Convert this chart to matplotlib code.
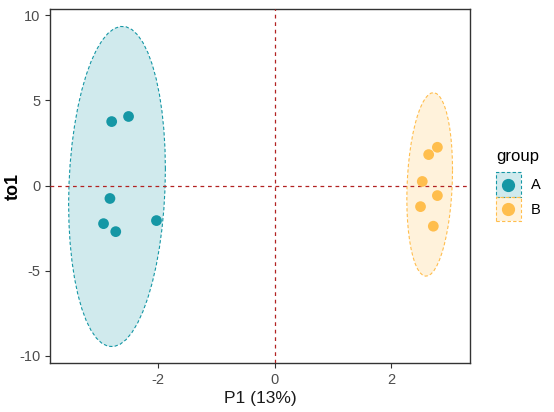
import numpy as np
import matplotlib
matplotlib.use("Agg")
import matplotlib.pyplot as plt
from matplotlib.lines import Line2D
from matplotlib.patches import Rectangle
from matplotlib.legend_handler import HandlerBase

plt.rcParams["font.family"] = ["Liberation Sans", "DejaVu Sans"]

groups = ["A", "B"]
a_x = [-2.80, -2.51, -2.83, -2.94, -2.73, -2.03]
a_y = [3.76, 4.06, -0.76, -2.24, -2.71, -2.06]
b_x = [2.80, 2.65, 2.54, 2.80, 2.51, 2.73]
b_y = [2.25, 1.82, 0.24, -0.59, -1.24, -2.39]
point_colors = ["#1597A5", "#FFBE4D"]
x_ticks = [-2, 0, 2]
y_ticks = [-10, -5, 0, 5, 10]


def cov_trob(x, nu=5, maxit=25, tol=0.01):
    n, p = x.shape
    wt = np.ones(n)
    loc = (wt[:, None] * x).sum(0) / wt.sum()
    w = np.sqrt(wt)
    for _ in range(maxit):
        w0 = w
        X = x - loc
        _, d, vt = np.linalg.svd(np.sqrt(w / w.sum())[:, None] * X, full_matrices=False)
        wX = X @ vt.T @ np.diag(1 / d)
        Q = (wX ** 2).sum(1)
        w = wt * (nu + p) / (nu + Q)
        loc = (w[:, None] * x).sum(0) / w.sum()
        if np.all(np.abs(w - w0) < tol):
            break
    X = x - loc
    cov = (np.sqrt(w)[:, None] * X).T @ (np.sqrt(w)[:, None] * X) / wt.sum()
    return loc, cov


def ellipse_pts(xs, ys, level=0.95, segments=51):
    data = np.column_stack([xs, ys])
    n = len(xs)
    loc, cov = cov_trob(data)
    dfd = n - 1
    qf = (dfd / 2) * ((1 - level) ** (-2 / dfd) - 1)
    radius = np.sqrt(2 * qf)
    ch = np.linalg.cholesky(cov).T
    t = np.linspace(0, 2 * np.pi, segments)
    circ = np.column_stack([np.cos(t), np.sin(t)])
    return loc + radius * circ @ ch


fig = plt.figure(figsize=(5.54, 4.12), dpi=100)
ax = fig.add_axes([0.0903, 0.119, 0.758, 0.858])

for xs, ys, c in [(a_x, a_y, point_colors[0]), (b_x, b_y, point_colors[1])]:
    e = ellipse_pts(xs, ys)
    ax.fill(e[:, 0], e[:, 1], facecolor=c, alpha=0.2, edgecolor="none", zorder=1)
    ax.plot(e[:, 0], e[:, 1], color=c, ls=(0, (3, 2)), lw=0.8, zorder=2)

ax.axvline(0, color="#B22222", ls=(0, (3, 3)), lw=0.9, zorder=3)
ax.axhline(0, color="#B22222", ls=(0, (3, 3)), lw=0.9, zorder=3)

ax.scatter(a_x, a_y, s=60, color=point_colors[0], zorder=4, edgecolors="none")
ax.scatter(b_x, b_y, s=60, color=point_colors[1], zorder=4, edgecolors="none")

ax.set_xlim(-3.86, 3.36)
ax.set_ylim(-10.43, 10.35)
ax.set_xticks(x_ticks)
ax.set_xticklabels([str(v) for v in x_ticks])
ax.set_yticks(y_ticks)
ax.set_yticklabels([str(v) for v in y_ticks])
ax.tick_params(colors="#333333", labelcolor="#4D4D4D", labelsize=10.5, length=3.5, width=0.8)
for s in ax.spines.values():
    s.set_color("#333333")
    s.set_linewidth(1.0)
ax.set_xlabel("P1 (13%)", fontsize=12.5, color="#1A1A1A", labelpad=3)
fig.text(13 / 554, 1 - 186 / 412, "to1", rotation=90, fontsize=13, color="#000000",
         fontweight="bold", ha="center", va="center")


class KeyHandler(HandlerBase):
    def __init__(self, color):
        super().__init__()
        self.color = color

    def create_artists(self, legend, orig_handle, xdescent, ydescent, width, height, fontsize, trans):
        r = Rectangle((-xdescent, -ydescent), width, height, facecolor=self.color, alpha=0.2,
                      edgecolor="none", transform=trans)
        r2 = Rectangle((-xdescent, -ydescent), width, height, facecolor="none",
                       edgecolor=self.color, ls=(0, (3, 2)), lw=0.8, transform=trans)
        p = Line2D([width / 2 - xdescent], [height / 2 - ydescent], marker="o", ms=8.5,
                   color=self.color, ls="none", transform=trans)
        return [r, r2, p]


h1 = Rectangle((0, 0), 1, 1)
h2 = Rectangle((0, 0), 1, 1)
leg = fig.legend([h1, h2], groups, title="group", loc="upper left",
                 bbox_to_anchor=(0.895, 0.638), frameon=False, fontsize=10.5,
                 title_fontsize=12, handler_map={h1: KeyHandler(point_colors[0]), h2: KeyHandler(point_colors[1])},
                 handlelength=1.7, handleheight=2.2, handletextpad=0.7, labelspacing=0.0,
                 borderpad=0.0, borderaxespad=0.0)
leg._legend_box.align = "left"
leg._legend_box.sep = 6

fig.savefig("out.png", dpi=100)
